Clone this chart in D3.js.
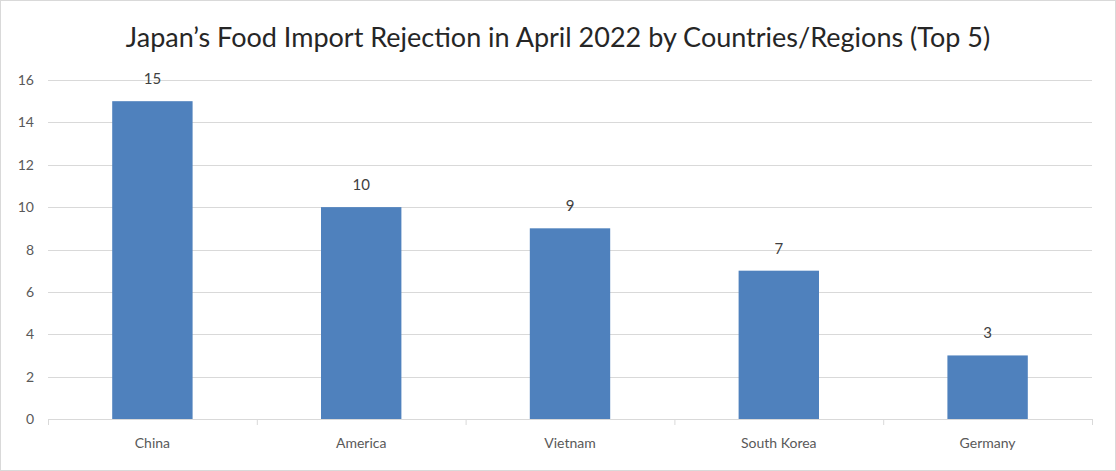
<!DOCTYPE html>
<html><head><meta charset="utf-8">
<script src="https://cdn.jsdelivr.net/npm/d3@7"></script>
<style>body{margin:0;background:#fff}</style>
</head><body>
<script>
var categories = ['China', 'America', 'Vietnam', 'South Korea', 'Germany'];
var rejections = [15, 10, 9, 7, 3];
var yTicks = [0, 2, 4, 6, 8, 10, 12, 14, 16];

var W = 1116, H = 471;
var plotLeft = 48, plotRight = 1092, plotTop = 80, plotBottom = 419;

var svg = d3.select('body').append('svg').attr('width', W).attr('height', H)
  .style('font-family', 'Lato, "Open Sans", sans-serif');

svg.append('rect').attr('x', 0.5).attr('y', 0.5).attr('width', W - 1).attr('height', H - 1)
  .attr('fill', '#fff').attr('stroke', '#d9d9d9');

var x = d3.scaleBand().domain(categories).range([plotLeft, plotRight]).paddingInner(0.615).paddingOuter(0.3075);
var y = d3.scaleLinear().domain([0, 16]).range([plotBottom, plotTop]);

// gridlines
svg.selectAll('.grid').data(yTicks.slice(1)).enter().append('line')
  .attr('x1', plotLeft).attr('x2', plotRight)
  .attr('y1', function (d) { return Math.round(y(d)) + 0.5; }).attr('y2', function (d) { return Math.round(y(d)) + 0.5; })
  .attr('stroke', '#d9d9d9');

svg.selectAll('.ylab').data(yTicks).enter().append('text')
  .attr('x', 34).attr('y', function (d) { return y(d) + 5; })
  .attr('text-anchor', 'end').attr('font-size', 14).attr('fill', '#595959')
  .text(function (d) { return d; });

svg.selectAll('.bar').data(rejections).enter().append('rect')
  .attr('x', function (d, i) { return x(categories[i]); })
  .attr('width', x.bandwidth())
  .attr('y', function (d) { return y(d); })
  .attr('height', function (d) { return plotBottom - y(d); })
  .attr('fill', '#4f81bd');

svg.selectAll('.val').data(rejections).enter().append('text')
  .attr('x', function (d, i) { return x(categories[i]) + x.bandwidth() / 2; })
  .attr('y', function (d) { return y(d) - 17; })
  .attr('text-anchor', 'middle').attr('font-size', 15).attr('fill', '#404040')
  .text(function (d) { return d; });

// x axis
svg.append('line').attr('x1', plotLeft).attr('x2', plotRight).attr('y1', plotBottom + 0.5).attr('y2', plotBottom + 0.5).attr('stroke', '#d9d9d9');
var step = x.step();
svg.selectAll('.tk').data(d3.range(categories.length + 1)).enter().append('line')
  .attr('x1', function (i) { return plotLeft + i * step + 0.5; }).attr('x2', function (i) { return plotLeft + i * step + 0.5; })
  .attr('y1', plotBottom).attr('y2', plotBottom + 6).attr('stroke', '#d9d9d9');
svg.selectAll('.xlab').data(categories).enter().append('text')
  .attr('x', function (d) { return x(d) + x.bandwidth() / 2; })
  .attr('y', 448).attr('text-anchor', 'middle').attr('font-size', 14).attr('fill', '#595959')
  .text(function (d) { return d; });

svg.append('text').attr('x', 558).attr('y', 47).attr('text-anchor', 'middle')
  .attr('font-size', 27).attr('fill', '#262626')
  .text('Japan’s Food Import Rejection in April 2022 by Countries/Regions (Top 5)');
</script>
</body></html>
